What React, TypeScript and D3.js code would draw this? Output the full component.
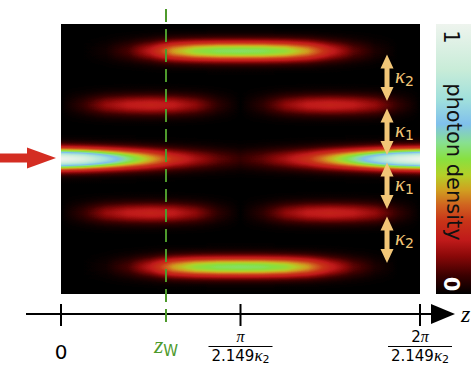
import React from 'react';
import * as d3 from 'd3';

// z positions in units of pi/(2.149 kappa2)
const zPositions = [0, 0.125, 0.25, 0.375, 0.5, 0.625, 0.75, 0.875, 1, 1.125, 1.25, 1.375, 1.5, 1.625, 1.75, 1.875, 2];
// photon density along each waveguide
const outerRow = [0, 0, 0.02, 0.08, 0.2, 0.38, 0.48, 0.52, 0.53, 0.52, 0.48, 0.38, 0.22, 0.1, 0.03, 0, 0];
const innerRow = [0, 0.06, 0.15, 0.2, 0.22, 0.2, 0.14, 0.05, 0, 0.05, 0.14, 0.2, 0.22, 0.2, 0.15, 0.06, 0];
const centerRow = [1, 0.9, 0.72, 0.55, 0.4, 0.26, 0.17, 0.1, 0.06, 0.1, 0.17, 0.26, 0.4, 0.55, 0.72, 0.9, 1];
const rowProfiles = [outerRow, innerRow, centerRow, innerRow, outerRow];
const couplingSubs = ['2', '1', '1', '2'];
const zW = 0.585;
const tickValues = [0, 1, 2];

// colormap
const colorStops = [0, 0.07, 0.14, 0.2, 0.27, 0.33, 0.385, 0.44, 0.5, 0.56, 0.63, 0.72, 0.83, 1];
const colorValues = ['#000000', '#3c0000', '#8a0808', '#c01a1a', '#c83418', '#d06420', '#d0a020', '#b4d028', '#88e040', '#88e090', '#80c0ec', '#a0e0dc', '#c8ecd8', '#eef4ee'];

const W = 474, H = 366;
const left = 61, right = 420, top = 24, bottom = 294;
const axisY = 314;
const gold = '#f2c677';
const green = '#4e9a2c';

export default function App() {
  const x = d3.scaleLinear().domain([0, 2]).range([left, right]);
  const y = d3.scaleBand<number>().domain(d3.range(rowProfiles.length)).range([top, bottom]);
  const bw = y.bandwidth();
  const cmap = d3.scaleLinear<string>().domain(colorStops).range(colorValues).interpolate(d3.interpolateRgb).clamp(true);
  const N = 128;
  const samples = d3.range(N + 1).map(i => d3.rgb(cmap(i / N)));
  const tR = samples.map(c => (c.r / 255).toFixed(4)).join(' ');
  const tG = samples.map(c => (c.g / 255).toFixed(4)).join(' ');
  const tB = samples.map(c => (c.b / 255).toFixed(4)).join(' ');
  const gray = (v: number) => { const g = Math.round(Math.max(0, Math.min(1, v)) * 255); return `rgb(${g},${g},${g})`; };
  const sigma = 7;
  const profStops = d3.range(0, 1.0001, 0.02).map(o => ({ o, v: Math.exp(-Math.pow((o - 0.5) * bw, 2) / (2 * sigma * sigma)) }));
  const cx = (i: number) => (y(i) as number) + bw / 2;
  const arrowX = 387;
  const arrowPath = (y1: number, y2: number) => {
    const hl = 14, hw = 6.5, sw = 2.5;
    return `M${arrowX},${y1} L${arrowX + hw},${y1 + hl} L${arrowX + sw},${y1 + hl} L${arrowX + sw},${y2 - hl} L${arrowX + hw},${y2 - hl} L${arrowX},${y2} L${arrowX - hw},${y2 - hl} L${arrowX - sw},${y2 - hl} L${arrowX - sw},${y1 + hl} L${arrowX - hw},${y1 + hl} Z`;
  };
  const sans = 'DejaVu Sans, sans-serif';
  const serif = 'Liberation Serif, serif';
  const cbX = 436, cbW = 35;
  const redY = 158;

  return (
    <svg width={W} height={H} style={{ position: 'absolute', left: 0, top: 0, background: '#fff' }}>
      <defs>
        <filter id="cmap" x="0" y="0" width="1" height="1" colorInterpolationFilters="sRGB">
          <feComponentTransfer>
            <feFuncR type="table" tableValues={tR} />
            <feFuncG type="table" tableValues={tG} />
            <feFuncB type="table" tableValues={tB} />
          </feComponentTransfer>
        </filter>
        {rowProfiles.map((row, i) => (
          <linearGradient key={i} id={`rowg${i}`} x1="0" y1="0" x2="1" y2="0">
            {row.map((v, k) => (
              <stop key={k} offset={(x(zPositions[k]) - left) / (right - left)} stopColor={gray(v)} />
            ))}
          </linearGradient>
        ))}
        <linearGradient id="vprof" x1="0" y1="0" x2="0" y2="1">
          {profStops.map((s, k) => <stop key={k} offset={s.o} stopColor={gray(s.v)} />)}
        </linearGradient>
        <mask id="vmask" maskContentUnits="objectBoundingBox">
          <rect x={0} y={0} width={1} height={1} fill="url(#vprof)" />
        </mask>
        <linearGradient id="cbar" x1="0" y1="1" x2="0" y2="0">
          {colorStops.map((t, k) => <stop key={k} offset={t} stopColor={colorValues[k]} />)}
        </linearGradient>
      </defs>

      {/* heatmap */}
      <g filter="url(#cmap)">
        <rect x={left} y={top} width={right - left} height={bottom - top} fill="#000" />
        {rowProfiles.map((_, i) => (
          <rect key={i} x={left} y={y(i)} width={right - left} height={bw} fill={`url(#rowg${i})`} mask="url(#vmask)" />
        ))}
      </g>

      {/* coupling arrows */}
      {couplingSubs.map((s, i) => {
        const y1 = cx(i) + 3.5, y2 = cx(i + 1) - 4;
        const mid = (y1 + y2) / 2;
        return (
          <g key={i}>
            <path d={arrowPath(y1, y2)} fill={gold} />
            <text x={395} y={mid + 5} fill={gold} fontFamily={serif} fontStyle="italic" fontSize={21}>
              κ<tspan fontStyle="normal" fontFamily={sans} fontSize={14} dy={3}>{s}</tspan>
            </text>
          </g>
        );
      })}

      {/* input arrow */}
      <rect x={0} y={redY - 4.5} width={29} height={9} fill="#d42d22" />
      <path d={`M27,${redY - 10.5} L56,${redY} L27,${redY + 10.5} Z`} fill="#d42d22" />

      {/* colorbar */}
      <rect x={cbX} y={top} width={cbW} height={bottom - top} fill="url(#cbar)" />
      <text transform={`translate(444,37) rotate(90)`} textAnchor="middle" fontFamily={sans} fontSize={21} fill="#111" dominantBaseline="central" dy={-7}>1</text>
      <text transform={`translate(447,162) rotate(90)`} textAnchor="middle" fontFamily={sans} fontSize={21} fill="#111">photon density</text>
      <text transform={`translate(444,284) rotate(90)`} textAnchor="middle" fontFamily={sans} fontSize={21} fontWeight="bold" fill="#fff" dominantBaseline="central" dy={-7}>0</text>

      {/* axis */}
      <line x1={26} x2={433} y1={axisY} y2={axisY} stroke="#000" strokeWidth={2} />
      <path d={`M431,${axisY - 10} L455,${axisY} L431,${axisY + 10} Z`} fill="#000" />
      {tickValues.map(t => (
        <line key={t} x1={x(t)} x2={x(t)} y1={axisY - 10} y2={axisY + 12} stroke="#000" strokeWidth={2} />
      ))}
      <text x={461} y={322} fontFamily={serif} fontStyle="italic" fontSize={24} fill="#000">z</text>

      {/* tick labels */}
      <text x={x(0)} y={359} textAnchor="middle" fontFamily={sans} fontSize={20} fill="#000">0</text>
      {[1, 2].map(t => (
        <g key={t}>
          <text x={x(t)} y={342} textAnchor="middle" fontSize={16} fill="#000">
            {t === 2 ? <tspan fontFamily={sans} fontSize={15}>2</tspan> : null}
            <tspan fontFamily={serif} fontStyle="italic">π</tspan>
          </text>
          <line x1={x(t) - 32} x2={x(t) + 32} y1={346.5} y2={346.5} stroke="#000" strokeWidth={1.2} />
          <text x={x(t)} y={361} textAnchor="middle" fontFamily={sans} fontSize={15} fill="#000">
            2.149<tspan fontFamily={serif} fontStyle="italic" fontSize={17}>κ</tspan><tspan fontSize={11} dy={2}>2</tspan>
          </text>
        </g>
      ))}

      {/* z_W */}
      <line x1={x(zW)} x2={x(zW)} y1={9} y2={326} stroke={green} strokeWidth={2} strokeDasharray="13 7" />
      <text x={x(zW)} y={353} textAnchor="middle" fill={green}>
        <tspan fontFamily={serif} fontStyle="italic" fontSize={24}>z</tspan>
        <tspan fontFamily={sans} fontSize={15} dy={3}>W</tspan>
      </text>
    </svg>
  );
}
